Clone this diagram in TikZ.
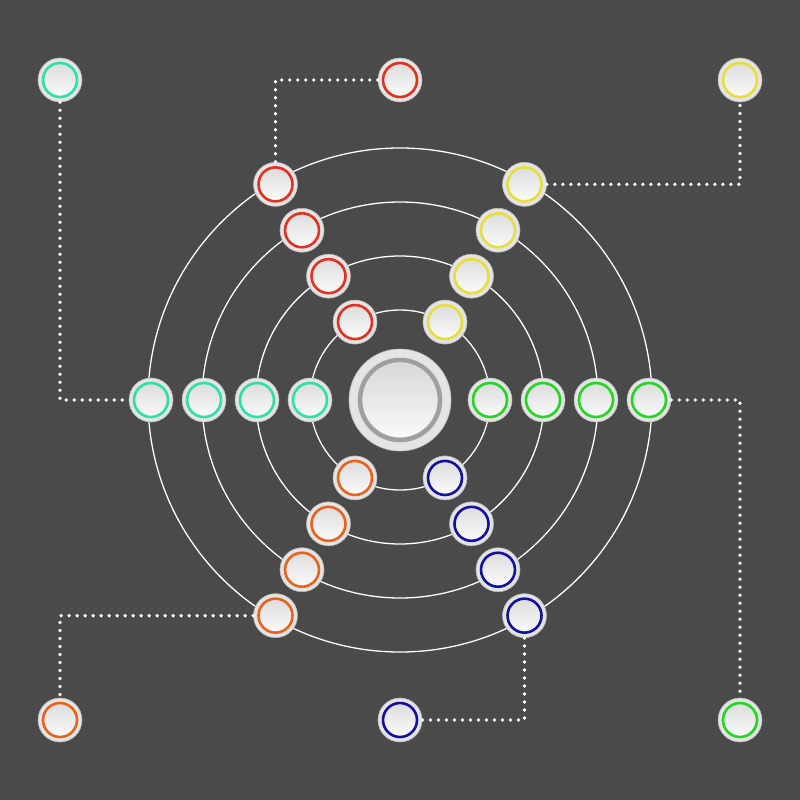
\documentclass[tikz,border=0pt]{standalone}
\usetikzlibrary{calc}
\definecolor{bg}{HTML}{4A4A4A}
\definecolor{cmint}{HTML}{2EE0A8}
\definecolor{cred}{HTML}{E03222}
\definecolor{cyel}{HTML}{E6DE3A}
\definecolor{cora}{HTML}{E8641E}
\definecolor{cblue}{HTML}{12129E}
\definecolor{cgreen}{HTML}{22D622}
\definecolor{beadout}{HTML}{E4E4E4}
\tikzset{
  bead/.style={circle, minimum size=44pt, inner sep=0pt, fill=beadout, draw=gray!55, line width=0.6pt,
    path picture={
      \shade[top color=gray!30, bottom color=white] (path picture bounding box.center) circle (16pt);
      \draw[#1, line width=2.6pt] (path picture bounding box.center) circle (17pt);
    }},
  hubstyle/.style={circle, minimum size=102pt, inner sep=0pt, fill=beadout, draw=gray!50, line width=0.6pt,
    path picture={
      \shade[top color=gray!35, bottom color=white] (path picture bounding box.center) circle (37pt);
      \draw[gray!75, line width=4.5pt] (path picture bounding box.center) circle (40pt);
    }},
  orbit/.style={draw=white, line width=1.3pt},
  dots/.style={draw=white, line width=3.8pt, line cap=round, dash pattern=on 0pt off 8pt}
}
\begin{document}
\begin{tikzpicture}[x=1pt,y=-1pt]
\fill[bg] (0,0) rectangle (800,800);
\useasboundingbox (0,0) rectangle (800,800);
\coordinate (O) at (400,400);
\foreach \r in {90,144,198,252} \draw[orbit] (O) circle (\r pt);
\node[hubstyle] (hub) at (O) {};
% rings of beads
\foreach \i/\r in {1/90,2/143,3/196,4/249}{
  \node[bead=cgreen] (g\i) at ($(O)+(0:\r)$) {};
  \node[bead=cmint] (c\i) at ($(O)+(180:\r)$) {};
  \node[bead=cyel] (y\i) at ($(O)+(-60:\r)$) {};
  \node[bead=cred] (r\i) at ($(O)+(-120:\r)$) {};
  \node[bead=cblue] (b\i) at ($(O)+(60:\r)$) {};
  \node[bead=cora] (o\i) at ($(O)+(120:\r)$) {};
}
% outer beads
\node[bead=cmint] (c0) at (60,80) {};
\node[bead=cred] (r0) at (400,80) {};
\node[bead=cyel] (y0) at (740,80) {};
\node[bead=cora] (o0) at (60,720) {};
\node[bead=cblue] (b0) at (400,720) {};
\node[bead=cgreen] (g0) at (740,720) {};
% dotted connectors
\draw[dots] (c0.south) -- (c0.south |- c4.west) -- (c4.west);
\draw[dots] (r0.west) -- (r0.west -| r4.north) -- (r4.north);
\draw[dots] (y4.east) -- (y4.east -| y0.south) -- (y0.south);
\draw[dots] (g4.east) -- (g4.east -| g0.north) -- (g0.north);
\draw[dots] (o4.west) -- (o4.west -| o0.north) -- (o0.north);
\draw[dots] (b4.south) -- (b4.south |- b0.east) -- (b0.east);
\end{tikzpicture}
\end{document}
